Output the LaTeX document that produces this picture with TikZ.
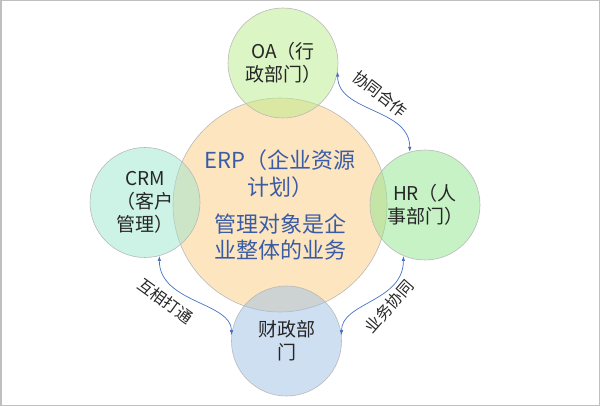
\documentclass[tikz,border=0pt]{standalone}
\usepackage{fontspec}
\setmainfont{Noto Sans CJK SC}
\usetikzlibrary{arrows.meta}

\definecolor{erpOrange}{RGB}{251,203,129}
\definecolor{oaGreen}{RGB}{185,235,137}
\definecolor{crmMint}{RGB}{155,229,205}
\definecolor{hrGreen}{RGB}{141,229,141}
\definecolor{finBlue}{RGB}{159,191,229}
\definecolor{erpText}{RGB}{58,92,165}
\definecolor{linkBlue}{RGB}{68,114,196}

\begin{document}
\begin{tikzpicture}[x=1pt, y=1pt, yscale=-1,
    unit/.style={circle, inner sep=0pt, minimum size=110pt, draw=gray!55,
        line width=0.6pt, fill opacity=0.5, text opacity=1, align=center,
        text=black!85, font=\fontsize{19}{23}\selectfont},
    link/.style={draw=linkBlue, line width=0.7pt,
        {Latex[length=5pt,width=3.5pt]}-{Latex[length=5pt,width=3.5pt]}},
    linkLabel/.style={font=\fontsize{16}{18}\selectfont, text=black!85}]
    \useasboundingbox (0,0) rectangle (600,406);
    \draw[gray!50, line width=1.5pt] (0.75,0.75) rectangle (599.25,405.25);

    % Define the positions of the circles
    \coordinate (erpPos) at (280, 205);
    \coordinate (oaPos) at (283, 63);
    \coordinate (crmPos) at (145, 202.5);
    \coordinate (hrPos) at (425, 205);
    \coordinate (finPos) at (286.5, 341);

    % Draw the circles
    \node[unit, minimum size=214pt, fill=erpOrange, text=erpText,
        font=\fontsize{22}{26.5}\selectfont] (erp) at (erpPos)
        {ERP（企业资源\\计划）\\[10.5pt]管理对象是企\\业整体的业务};
    \node[unit, fill=oaGreen] (oa) at (oaPos) {OA（行\\政部门）};
    \node[unit, fill=crmMint] (crm) at (crmPos) {CRM\\（客户\\管理）};
    \node[unit, fill=hrGreen] (hr) at (hrPos) {HR（人\\事部门）};
    \node[unit, fill=finBlue] (fin) at (finPos) {财政部\\门};

    % Draw the links
    \draw[link] (oa.-9) .. controls +(0,41) and +(0,-44) .. (hr.106);
    \draw[link] (crm.-75) .. controls +(0,47) and +(0,-33) .. (fin.174);
    \draw[link] (hr.-113) .. controls +(0,46) and +(0,-33) .. (fin.6);

    % Draw the labels
    \node[linkLabel, rotate=-38] (coopLabel) at (380, 94) {协同合作};
    \node[linkLabel, rotate=-36] (openLabel) at (165.5, 301) {互相打通};
    \node[linkLabel, rotate=49] (bizLabel) at (389, 306.5) {业务协同};
\end{tikzpicture}
\end{document}
